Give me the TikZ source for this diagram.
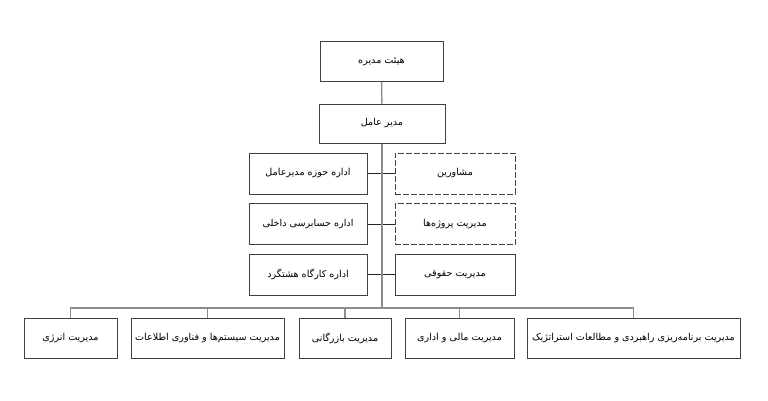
\documentclass[tikz,border=0pt]{standalone}
\usepackage{fontspec}
\newfontfamily\farsifont[Script=Arabic]{DejaVu Sans}
\TeXXeTstate=1
\begin{document}
\begin{tikzpicture}[x=1pt, y=-1pt,
		unit/.style={draw=black!75, line width=1pt, fill=white, minimum height=40pt, inner sep=0.5pt, font=\farsifont\fontsize{9.6}{11}\selectfont},
		advisory/.style={unit, dash pattern=on 6pt off 2pt},
		bus/.style={draw=black!45, line width=1.4pt},
		link/.style={draw=black!85, line width=1pt}]
			%%%%% START %%%%%
			
			\useasboundingbox (0, 0) rectangle (768, 400);
			
			\coordinate (hub) at (382, 308);
			
			% links across the spine, drawn first
			\path (308, 173.5) coordinate (o1) (308, 224) coordinate (o2) (308, 274.5) coordinate (o3);
			\path (455, 173.5) coordinate (a1) (455, 224) coordinate (a2) (455, 274.5) coordinate (a3);
			\draw[link] (o1) -- (a1);
			\draw[link] (o2) -- (a2);
			\draw[link] (o3) -- (a3);
			
			\node[unit, minimum width=123pt] (board) at (381.5, 61.5) {\beginR هیئت مدیره\endR};
			\node[unit, minimum width=126pt, minimum height=39pt] (ceo) at (382, 123.5) {\beginR مدیر عامل\endR};
			
			\draw[bus] (board) -- (ceo);
			\draw[bus] (ceo) -- (hub);
			
			\node[unit, minimum width=118pt, minimum height=41pt] (office) at (o1) {\beginR اداره حوزه مدیرعامل\endR};
			\node[unit, minimum width=118pt, minimum height=41pt] (audit) at (o2) {\beginR اداره حسابرسی داخلی\endR};
			\node[unit, minimum width=118pt, minimum height=41pt] (site) at (o3) {\beginR اداره کارگاه هشتگرد\endR};
			
			\node[advisory, minimum width=120pt, minimum height=41pt] (advisors) at (a1) {\beginR مشاورین\endR};
			\node[advisory, minimum width=120pt, minimum height=41pt] (projects) at (a2) {\beginR مدیریت پروژه‌ها\endR};
			\node[unit, minimum width=120pt, minimum height=41pt] (legal) at (a3) {\beginR مدیریت حقوقی\endR};
			
			\node[unit, minimum width=93pt] (energy) at (70.5, 338) {\beginR مدیریت انرژی\endR};
			\node[unit, minimum width=153pt] (it) at (207.5, 338) {\beginR مدیریت سیستم‌ها و فناوری اطلاعات\endR};
			\node[unit, minimum width=92pt] (trade) at (345, 338) {\beginR مدیریت بازرگانی\endR};
			\node[unit, minimum width=109pt] (finance) at (459.5, 338) {\beginR مدیریت مالی و اداری\endR};
			\node[unit, minimum width=213pt] (plan) at (633.5, 338) {\beginR مدیریت برنامه‌ریزی راهبردی و مطالعات استراتژیک\endR};
			
			\draw[bus] (energy.north) -- (energy.north |- hub) -- (plan.north |- hub) -- (plan.north);
			\foreach \n in {it, trade, finance}
				\draw[bus] (\n.north) -- (\n.north |- hub);
			
			%%%%% END %%%%%
		\end{tikzpicture}
\end{document}
